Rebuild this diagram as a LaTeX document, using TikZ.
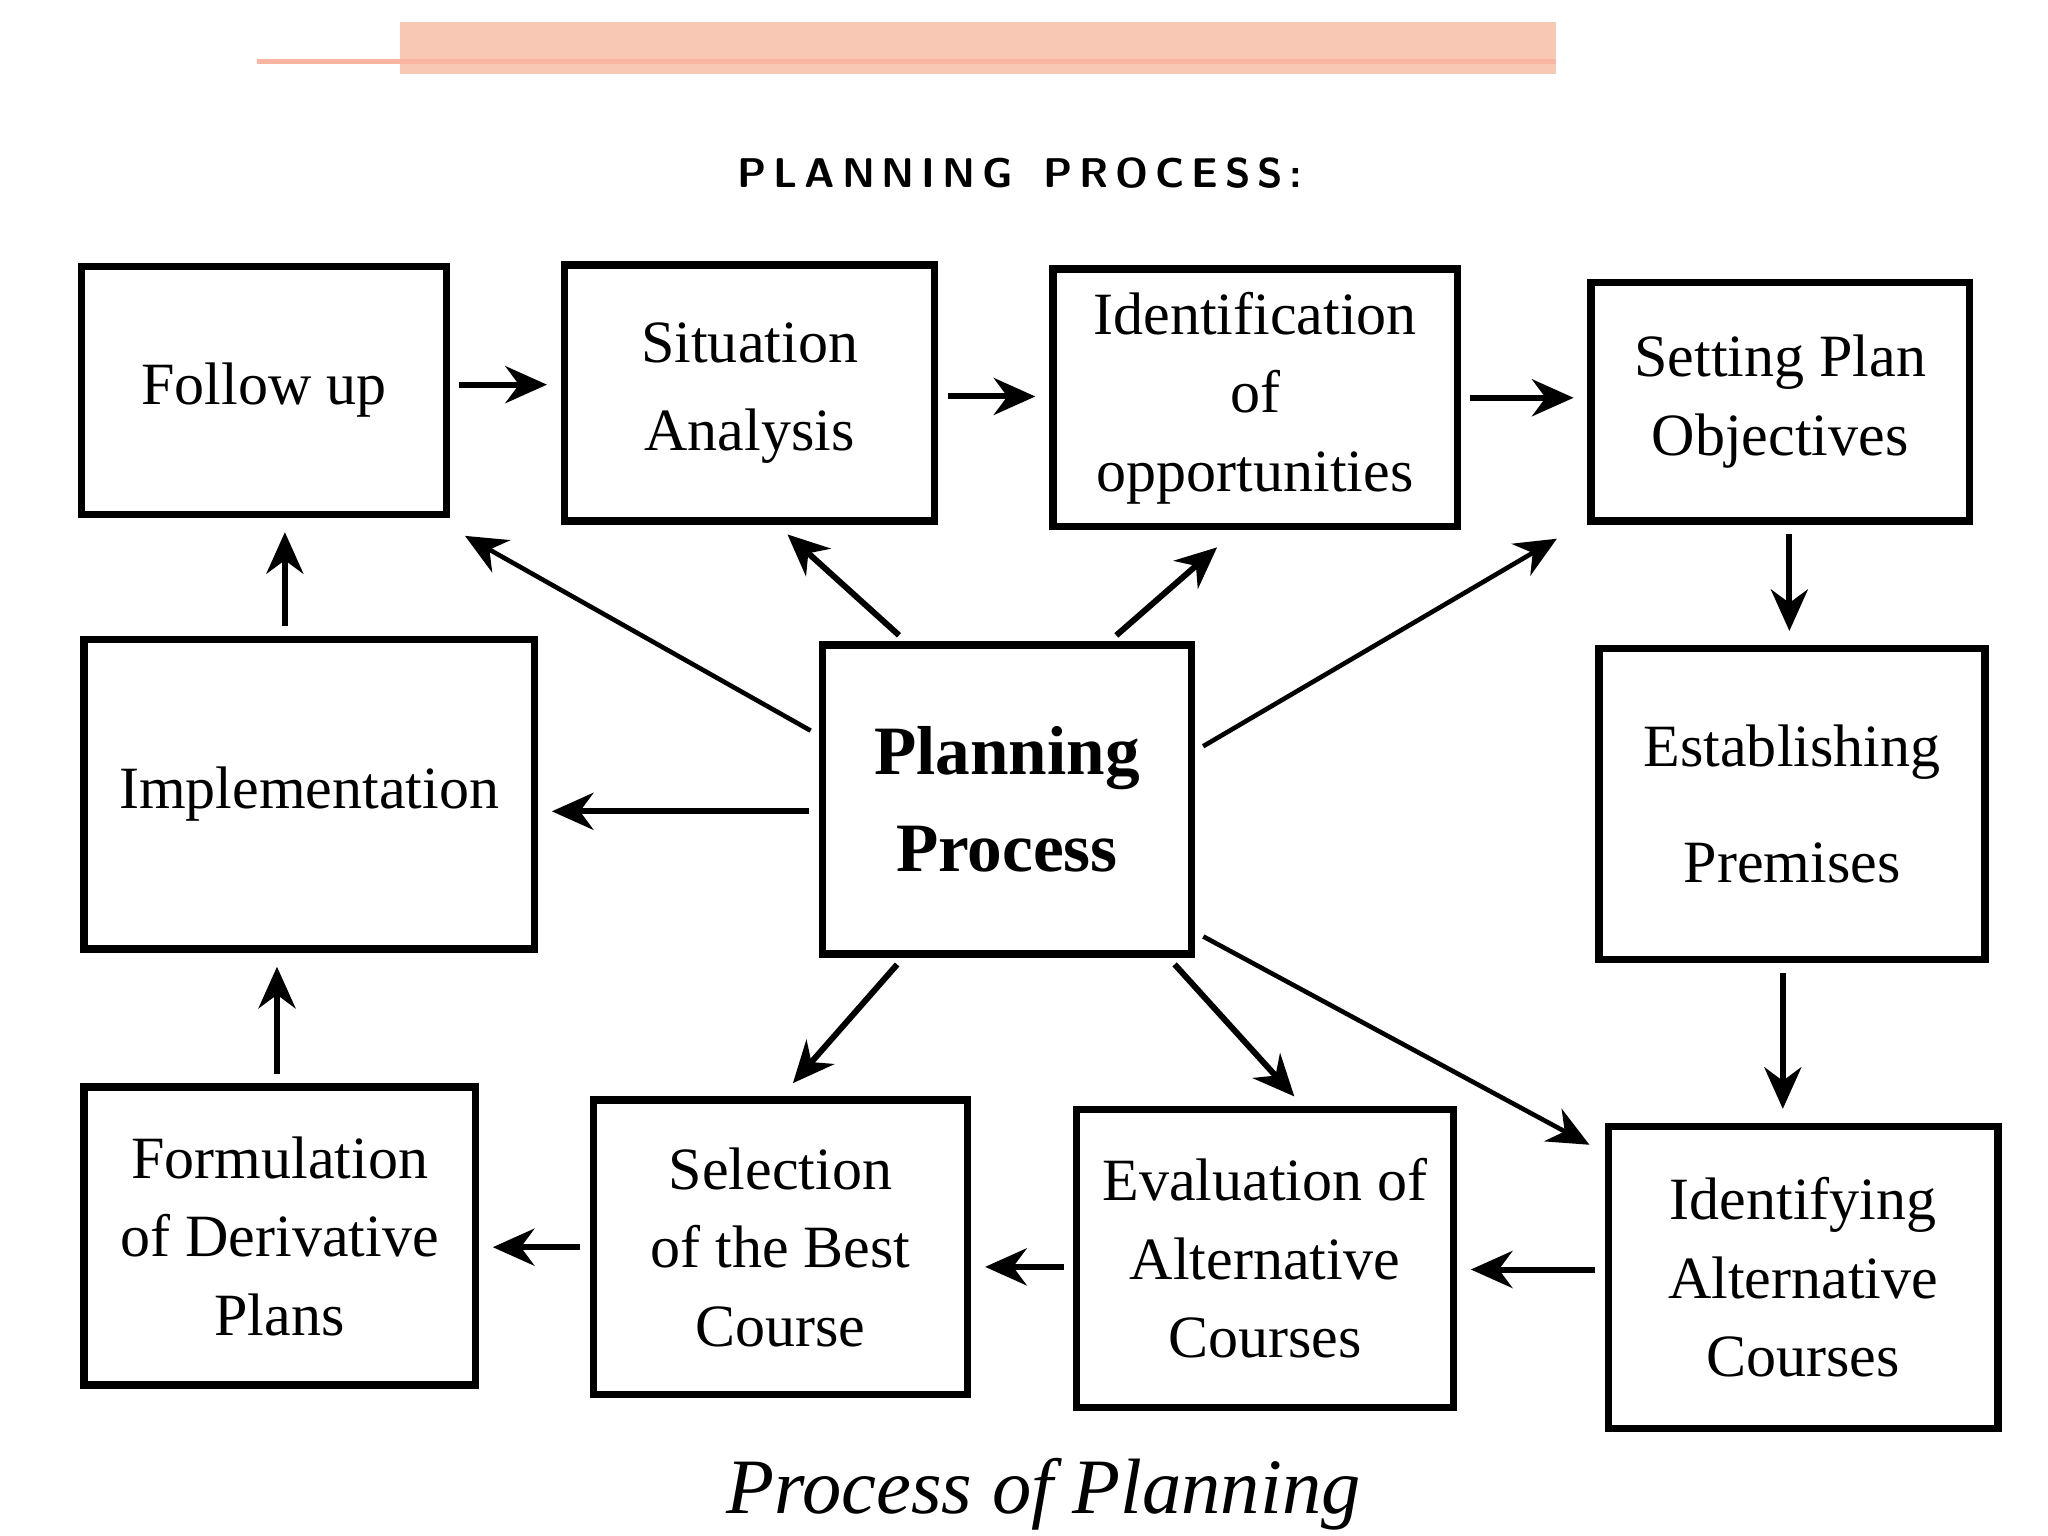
\documentclass[tikz,border=0pt]{standalone}
\usepackage{fontspec}
\setmainfont{Liberation Serif}
\usetikzlibrary{arrows.meta}
\definecolor{peach}{RGB}{248,200,180}
\begin{document}
\begin{tikzpicture}[x=0.01cm,y=-0.01cm,
  box/.style={draw,line width=1.6pt,align=center,inner sep=0pt,font=\fontsize{13}{17}\selectfont},
  arr/.style={-{Stealth[length=9pt,width=8pt]},line width=1.3pt,shorten >=3pt,shorten <=2pt}]
\useasboundingbox (0,0) rectangle (1560,1170);
\fill[white] (0,0) rectangle (1560,1170);
\fill[peach] (305,17) rectangle (1185,56);
\draw[peach!90!red,line width=1.2pt] (196,47) -- (1185,47);
\node[font=\sffamily\bfseries\small] (title) at (777,132) {P\,L\,A\,N\,N\,I\,N\,G\ \ P\,R\,O\,C\,E\,S\,S\,:};
\newcommand{\bx}[6]{\node[box,minimum width={(#4-#2)*0.01cm},minimum height={(#5-#3)*0.01cm}] (#1) at ({(#2+#4)/2},{(#3+#5)/2}) {#6};}
\bx{fu}{62}{203}{340}{392}{Follow up}
\bx{sa}{430}{202}{712}{397}{Situation\\[2pt]Analysis}
\bx{io}{802}{205}{1110}{401}{Identification\\of\\opportunities}
\bx{sp}{1212}{215}{1500}{397}{Setting Plan\\Objectives}
\bx{im}{64}{487}{407}{723}{Implementation}
\node[box,font=\fontsize{15}{21}\selectfont\bfseries,minimum width=2.81cm,minimum height=2.35cm] (pp) at (767,609) {Planning\\Process};
\bx{ep}{1218}{494}{1512}{731}{Establishing\\[8pt]Premises}
\bx{fd}{64}{828}{362}{1055}{Formulation\\of Derivative\\Plans}
\bx{sb}{452}{838}{737}{1062}{Selection\\of the Best\\Course}
\bx{ev}{820}{845}{1107}{1072}{Evaluation of\\Alternative\\Courses}
\bx{ia}{1225}{858}{1522}{1088}{Identifying\\Alternative\\Courses}
\node[font=\fontsize{17}{20}\selectfont\itshape] (cap) at (795,1138) {Process of Planning};
% chain
\draw[arr] (fu.east|-0,293) -- (sa.west|-0,293);
\draw[arr] (sa.east|-0,302) -- (io.west|-0,302);
\draw[arr] (io.east|-0,303) -- (sp.west|-0,303);
\draw[arr] (sp.south-|1363,0) -- (ep.north-|1363,0);
\draw[arr] (ep.south-|1358,0) -- (ia.north-|1358,0);
\draw[arr] (ia.west|-0,967) -- (ev.east|-0,967);
\draw[arr] (ev.west|-0,965) -- (sb.east|-0,965);
\draw[arr] (sb.west|-0,950) -- (fd.east|-0,950);
\draw[arr] (fd.north-|211,0) -- (im.south-|211,0);
\draw[arr] (im.north-|217,0) -- (fu.south-|217,0);
% from center
\coordinate (a1) at (345,403); \draw[arr,line width=1pt] (pp.west|-0,560) -- (a1);
\coordinate (a2) at (592,400); \draw[arr] (pp.north-|690,0) -- (a2);
\coordinate (a3) at (935,410); \draw[arr] (pp.north-|845,0) -- (a3);
\coordinate (a4) at (1195,405); \draw[arr,line width=1pt] (pp.east|-0,572) -- (a4);
\draw[arr] (pp.west|-0,618) -- (im.east|-0,618);
\coordinate (a5) at (597,833); \draw[arr] (pp.south-|688,0) -- (a5);
\coordinate (a6) at (993,843); \draw[arr] (pp.south-|890,0) -- (a6);
\coordinate (a7) at (1220,877); \draw[arr,line width=1pt] (pp.east|-0,710) -- (a7);
\end{tikzpicture}
\end{document}
